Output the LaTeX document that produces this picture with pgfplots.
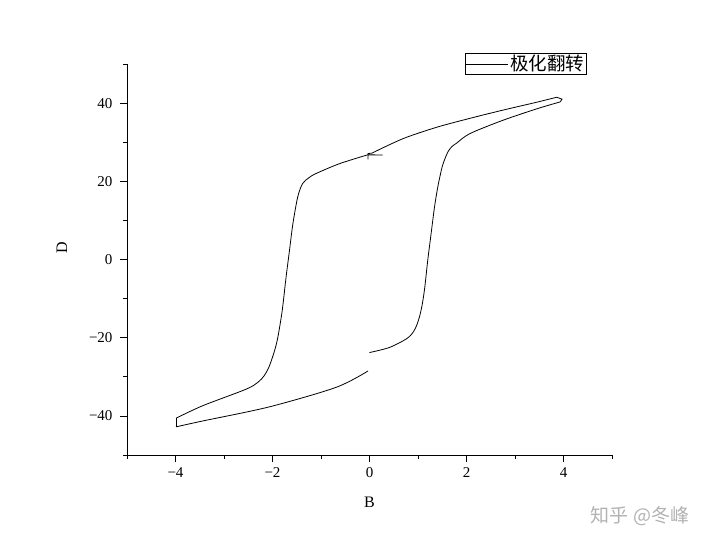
\documentclass[border=0pt]{standalone}
\usepackage{fontspec}
\setmainfont{Liberation Serif}
\newfontfamily\cjk{Noto Sans CJK SC}
\usepackage{pgfplots}
\pgfplotsset{compat=1.18}
\begin{document}
\begin{tikzpicture}[x=1pt,y=1pt]
\begin{axis}[
  at={(0,0)}, anchor=south west,
  scale only axis, width=485pt, height=391pt,
  xmin=-5, xmax=5, ymin=-50, ymax=50,
  axis x line*=bottom, axis y line*=left,
  axis line style={-, line width=0.8pt},
  xtick={-4,-2,0,2,4}, ytick={-40,-20,0,20,40},
  xticklabels={−4,−2,0,2,4}, yticklabels={−40,−20,0,20,40},
  minor xtick={-5,-3,-1,1,3,5}, minor ytick={-50,-30,-10,10,30,50},
  tick align=outside, major tick length=7pt, minor tick length=4pt,
  every tick/.style={black, line width=0.8pt},
  tick label style={font=\fontsize{15}{16}\selectfont},
  xticklabel style={yshift=-2pt},
  yticklabel style={xshift=-4pt},
  xlabel={B}, ylabel={D},
  every axis x label/.style={at={(axis cs:0,-50)}, yshift=-47pt, anchor=center, font=\fontsize{16}{17}\selectfont},
  every axis y label/.style={at={(axis cs:-5,3)}, xshift=-65pt, rotate=90, anchor=center, font=\fontsize{16}{17}\selectfont},
  legend style={draw=black, line width=0.8pt, at={(0.948,1.028)}, anchor=north east,
    inner xsep=0pt, inner ysep=0pt, font=\cjk\fontsize{18.5}{22}\selectfont},
  legend image code/.code={\draw[black, line width=0.8pt] (-2pt,0pt) -- (40pt,0pt);},
]
\addplot[black, line width=0.8pt, smooth, tension=0.5] coordinates {
(0.00,-23.8) (0.41,-22.5) (0.76,-20.3) (0.90,-18.6) (0.98,-16.6) (1.04,-14.2) (1.09,-11.3)
(1.14,-7.1) (1.20,-0.3) (1.27,6.6) (1.34,13.4) (1.40,18.0) (1.45,21.1) (1.50,23.8)
(1.55,25.6) (1.62,27.6) (1.70,28.9) (1.79,29.7) (2.07,32.2) (2.75,35.6) (3.44,38.5)
(3.93,40.3)
};
\addlegendentry{极化翻转}
\addplot[black, line width=0.8pt, forget plot] coordinates {
(3.93,40.3) (3.97,41.0) (3.86,41.5)
};
\addplot[black, line width=0.8pt, smooth, tension=0.5, forget plot] coordinates {
(3.86,41.5) (3.44,40.2) (2.75,38.2) (2.07,36.1) (1.38,33.8) (0.69,30.9) (0.05,27.2)
};
\addplot[black, line width=0.8pt, forget plot] coordinates {
(0.05,27.2) (-0.03,27.1) (-0.03,25.6) (-0.03,26.7) (0.27,26.7) (-0.03,26.8)
};
\addplot[black, line width=0.8pt, smooth, tension=0.5, forget plot] coordinates {
(-0.03,26.8) (-0.62,24.5) (-1.10,22.0) (-1.25,20.9) (-1.38,19.4) (-1.48,16.0) (-1.58,9.1) (-1.65,2.3)
(-1.72,-4.5) (-1.80,-13.1) (-1.89,-19.9) (-1.95,-23.0) (-2.0,-25.0) (-2.08,-27.7) (-2.17,-29.7)
(-2.30,-31.4) (-2.55,-33.2) (-3.44,-37.4) (-3.99,-40.6)
};
\addplot[black, line width=0.8pt, forget plot] coordinates {
(-3.99,-40.6) (-3.99,-42.8)
};
\addplot[black, line width=0.8pt, smooth, tension=0.5, forget plot] coordinates {
(-3.99,-42.8) (-3.44,-41.3) (-2.07,-37.7) (-0.69,-32.7) (-0.03,-28.5)
};
\end{axis}
\node[text=gray!60, font=\cjk\fontsize{19}{20}\selectfont, anchor=center] at (513pt,-61pt) {知乎 @冬峰};
\pgfresetboundingbox
\path[use as bounding box] (-127pt,-92pt) rectangle (587pt,455pt);
\end{tikzpicture}
\end{document}
